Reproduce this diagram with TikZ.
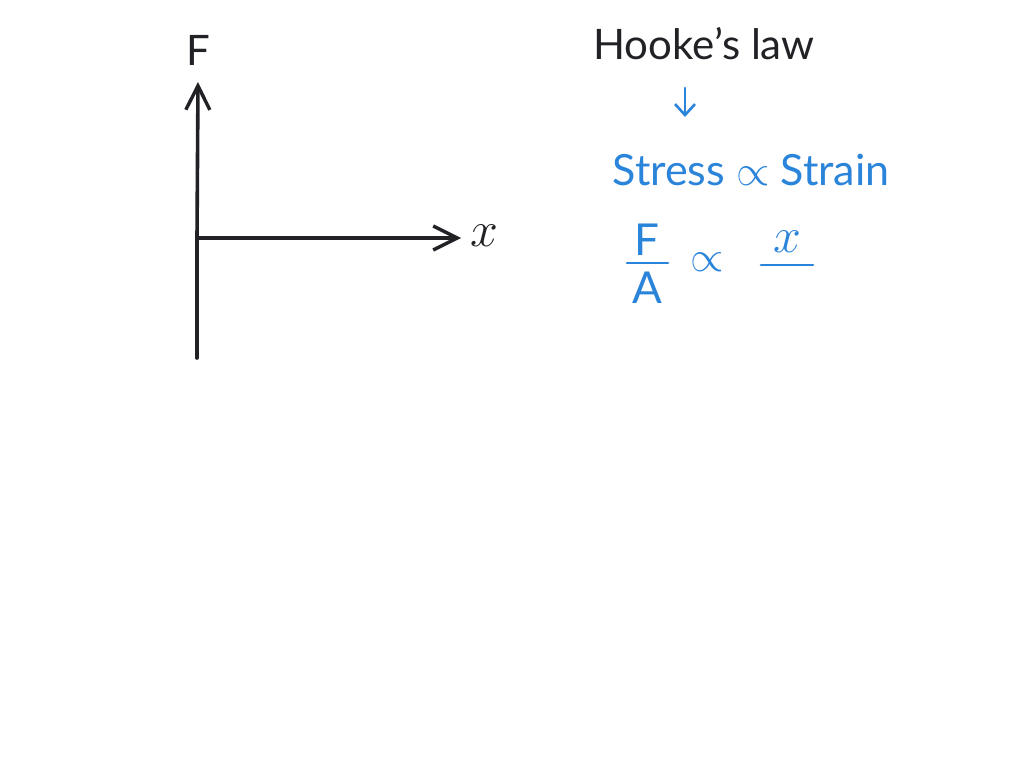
\RequirePackage{fix-cm}
\documentclass[tikz,border=0pt]{standalone}
\usepackage{fontspec}
\setmainfont{Lato}
\usetikzlibrary{arrows.meta}
\definecolor{ink}{RGB}{34,34,38}
\definecolor{pen}{RGB}{42,132,218}
\begin{document}
\begin{tikzpicture}[x=1pt,y=-1pt,
  axis/.style={draw=ink,line width=3.6pt,line cap=round},
  axtip/.style={-{Straight Barb[length=24pt,width=24pt,line width=3.4pt]}},
  lbl/.style={inner sep=0pt,text=ink,font=\fontsize{42}{46}\selectfont},
  blu/.style={inner sep=0pt,text=pen,font=\fontsize{43}{47}\selectfont},
  bluline/.style={draw=pen,line width=2.8pt,line cap=round}]
\useasboundingbox[fill=white] (0,0) rectangle (1024,768);
% axes
\coordinate (O) at (197,238);
\coordinate (Ybot) at (197,358);
\coordinate (Ytop) at (198,82);
\coordinate (Xend) at (461,238);
\draw[axis] (Ybot) -- (O);
\draw[axis,axtip] (O) -- (Ytop);
\draw[axis,axtip] (O) -- (Xend);
\node[lbl] (F) at (198,50) {F};
\node[lbl,font=\fontsize{50}{54}\selectfont] (xl) at (484,236) {$x$};
% right side
\node[lbl] (hooke) at (704,44) {Hooke’s law};
\node[blu] (stress) at (751,170) {Stress $\propto$ Strain};
\coordinate (a1) at (685,88);
\coordinate (a2) at (685,117);
\draw[bluline,-{Straight Barb[length=11pt,width=20pt,line width=2.6pt]}] (a1) -- (a2);
% F/A
\node[blu,font=\fontsize{44}{48}\selectfont] (Fn) at (647,240) {F};
\node[blu,font=\fontsize{44}{48}\selectfont] (Ad) at (647,288) {A};
\coordinate (f1) at (627,263);
\coordinate (f2) at (668,263);
\draw[bluline] (f1) -- (f2);
\node[blu] (prop) at (707,262) {$\propto$};
\node[blu,font=\fontsize{50}{54}\selectfont] (xn) at (787,242) {$x$};
\coordinate (g1) at (761,265);
\coordinate (g2) at (813,265);
\draw[bluline] (g1) -- (g2);
\end{tikzpicture}
\end{document}
